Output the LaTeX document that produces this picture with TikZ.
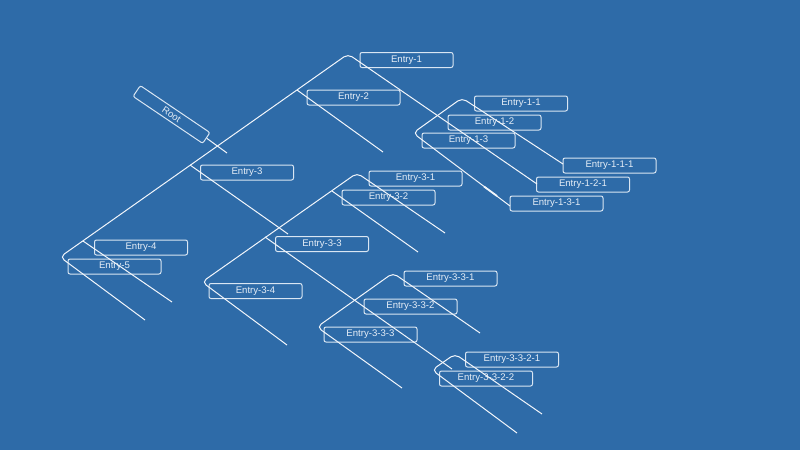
\documentclass[tikz,border=0pt]{standalone}
\usepackage{fontspec}
\setmainfont{Liberation Sans}
\definecolor{bg}{HTML}{2E6BA8}
\definecolor{linecol}{HTML}{F2F6FB}
\definecolor{boxcol}{HTML}{D9E6F3}
\definecolor{textcol}{HTML}{E6EEF7}
\tikzset{
  entrybox/.style={draw=boxcol, line width=1pt, rounded corners=2pt, minimum width=93pt, minimum height=15pt, inner sep=0pt, text=textcol, font=\fontsize{9.6}{11}\selectfont},
  rootbox/.style={entrybox, minimum width=84pt, minimum height=13pt, rotate=-34},
  branch/.style={draw=linecol, line width=1pt, rounded corners=5pt},
}
\begin{document}
\begin{tikzpicture}[x=1pt,y=-1pt]
\fill[bg] (0,0) rectangle (800,450);
\useasboundingbox (0,0) rectangle (800,450);

% boxes
\node[rootbox] (root) at (171.5,114.5) {Root};
\node[entrybox] (e1) at (406.5,60) {Entry-1};
\node[entrybox] (e2) at (353.5,97.5) {Entry-2};
\node[entrybox] (e3) at (247,172.5) {Entry-3};
\node[entrybox] (e4) at (141,247.5) {Entry-4};
\node[entrybox] (e5) at (114.5,266.5) {Entry-5};
\node[entrybox] (e11) at (521,103.5) {Entry-1-1};
\node[entrybox] (e12) at (494.5,122.5) {Entry-1-2};
\node[entrybox] (e13) at (468.5,140.5) {Entry-1-3};
\node[entrybox] (e111) at (609.5,165.5) {Entry-1-1-1};
\node[entrybox] (e121) at (583,184.5) {Entry-1-2-1};
\node[entrybox] (e131) at (556.5,203.5) {Entry-1-3-1};
\node[entrybox] (e31) at (415.5,178.5) {Entry-3-1};
\node[entrybox] (e32) at (388.5,197.5) {Entry-3-2};
\node[entrybox] (e33) at (322,244) {Entry-3-3};
\node[entrybox] (e34) at (255.5,291) {Entry-3-4};
\node[entrybox] (e331) at (450.5,278.5) {Entry-3-3-1};
\node[entrybox] (e332) at (410.5,306.5) {Entry-3-3-2};
\node[entrybox] (e333) at (370.5,334.5) {Entry-3-3-3};
\node[entrybox] (e3321) at (512,359.5) {Entry-3-3-2-1};
\node[entrybox] (e3322) at (486,378.5) {Entry-3-3-2-2};

% coordinates
\coordinate (rootend) at (227,153);
\coordinate (mbot) at (60,257);
\coordinate (mtop) at (348,54);
\coordinate (e5end) at (145,320);
\coordinate (e1end) at (537,184);
\coordinate (e2a) at (297,90);
\coordinate (e2end) at (383,152);
\coordinate (e3a) at (190,165);
\coordinate (e3end) at (288,234);
\coordinate (e4a) at (83,241);
\coordinate (e4end) at (172,302);
\coordinate (s1bot) at (413,133);
\coordinate (s1top) at (462,98);
\coordinate (e11end) at (563,164);
\coordinate (e13end) at (510,206);
\coordinate (d1) at (484,186.5);
\coordinate (d2) at (497,196);
\coordinate (s3bot) at (202,282);
\coordinate (s3top) at (357,173);
\coordinate (e31end) at (445,233);
\coordinate (e32a) at (332,191);
\coordinate (e32end) at (418,252);
\coordinate (e33a) at (265,237);
\coordinate (e33end) at (452,369);
\coordinate (e34end) at (287,345);
\coordinate (s33bot) at (317,327);
\coordinate (s33top) at (393,273);
\coordinate (e331end) at (480,333);
\coordinate (e333end) at (402,388);
\coordinate (s332bot) at (432,370);
\coordinate (s332top) at (455,354);
\coordinate (e3321end) at (542,414);
\coordinate (e3322end) at (517,433);

% branches
\draw[branch] (root.east) -- (rootend);
\draw[branch] (e5end) -- (mbot) -- (mtop) -- (e1end);
\draw[branch] (e2a) -- (e2end);
\draw[branch] (e3a) -- (e3end);
\draw[branch] (e4a) -- (e4end);
\draw[branch] (e13end) -- (s1bot) -- (s1top) -- (e11end);
\draw[branch, line width=1.8pt] (d1) -- (d2);
\draw[branch] (e34end) -- (s3bot) -- (s3top) -- (e31end);
\draw[branch] (e32a) -- (e32end);
\draw[branch] (e33a) -- (e33end);
\draw[branch] (e333end) -- (s33bot) -- (s33top) -- (e331end);
\draw[branch] (e3322end) -- (s332bot) -- (s332top) -- (e3321end);
\end{tikzpicture}
\end{document}
